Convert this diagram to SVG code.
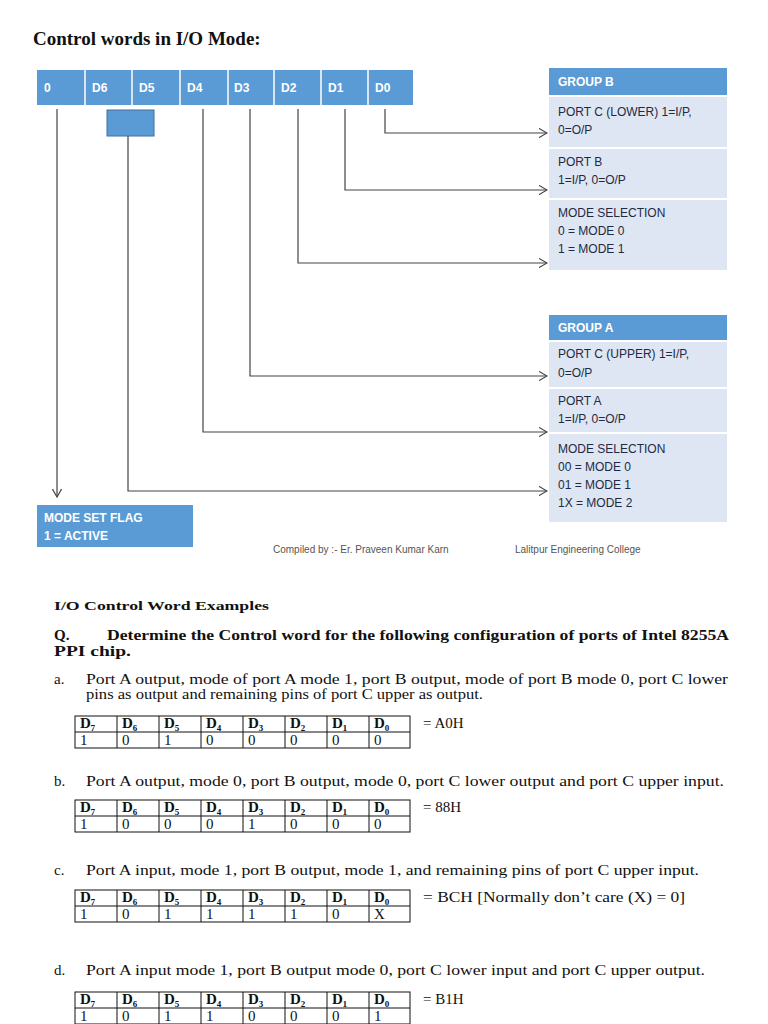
<svg xmlns="http://www.w3.org/2000/svg" width="768" height="1024" viewBox="0 0 768 1024">
<style>
.h{fill:#5b9bd5}.l{fill:#dde6f2}.wt{font-family:"Liberation Sans",Arial,sans-serif;font-size:12px;fill:#fff;font-weight:bold}
.bt{font-family:"Liberation Sans",Arial,sans-serif;font-size:12px;fill:#1f2a44}
.c{fill:none;stroke:#444;stroke-width:1.2}
.s{font-family:"Liberation Serif","Times New Roman",serif;font-size:15px;fill:#111}
.sb{font-family:"Liberation Serif","Times New Roman",serif;font-size:15px;font-weight:bold;fill:#111}
.tb{fill:#fff;stroke:#111;stroke-width:1}
</style>
<defs><marker id="a" markerWidth="8" markerHeight="8" refX="7" refY="4" orient="auto"><path d="M0,0 L7,4 L0,8" fill="none" stroke="#444"/></marker></defs>
<rect width="768" height="1024" fill="#fff"/>
<text x="33" y="45" style="font-family:'Liberation Serif',serif;font-size:19px;font-weight:bold;fill:#111">Control words in I/O Mode:</text>
<g id="bits">
<rect x="37" y="70" width="376" height="35" class="h"/>
<g stroke="#fff" stroke-width="1.5"><line x1="85" y1="70" x2="85" y2="105"/><line x1="132" y1="70" x2="132" y2="105"/><line x1="180" y1="70" x2="180" y2="105"/><line x1="228" y1="70" x2="228" y2="105"/><line x1="274" y1="70" x2="274" y2="105"/><line x1="321" y1="70" x2="321" y2="105"/><line x1="368" y1="70" x2="368" y2="105"/></g>
<text class="wt" x="44" y="92">0</text><text class="wt" x="92" y="92">D6</text><text class="wt" x="139" y="92">D5</text><text class="wt" x="187" y="92">D4</text><text class="wt" x="234" y="92">D3</text><text class="wt" x="281" y="92">D2</text><text class="wt" x="328" y="92">D1</text><text class="wt" x="375" y="92">D0</text>
</g>
<g id="d65"><rect x="107" y="110" width="47" height="26" class="h" stroke="#41719c"/></g>
<g id="groupB">
<rect x="549" y="68" width="178" height="27" class="h"/><text class="wt" x="558" y="86">GROUP B</text>
<rect x="549" y="97" width="178" height="50" class="l"/><text class="bt" x="558" y="116">PORT C (LOWER) 1=I/P,</text><text class="bt" x="558" y="134">0=O/P</text>
<rect x="549" y="149" width="178" height="49" class="l"/><text class="bt" x="558" y="166">PORT B</text><text class="bt" x="558" y="184">1=I/P, 0=O/P</text>
<rect x="549" y="200" width="178" height="70" class="l"/><text class="bt" x="558" y="217">MODE SELECTION</text><text class="bt" x="558" y="235">0 = MODE 0</text><text class="bt" x="558" y="253">1 = MODE 1</text>
</g>
<g id="groupA">
<rect x="549" y="315" width="178" height="25" class="h"/><text class="wt" x="558" y="332">GROUP A</text>
<rect x="549" y="342" width="178" height="45" class="l"/><text class="bt" x="558" y="358">PORT C (UPPER) 1=I/P,</text><text class="bt" x="558" y="377">0=O/P</text>
<rect x="549" y="389" width="178" height="43" class="l"/><text class="bt" x="558" y="405">PORT A</text><text class="bt" x="558" y="423">1=I/P, 0=O/P</text>
<rect x="549" y="434" width="178" height="88" class="l"/><text class="bt" x="558" y="453">MODE SELECTION</text><text class="bt" x="558" y="471">00 = MODE 0</text><text class="bt" x="558" y="489">01 = MODE 1</text><text class="bt" x="558" y="507">1X = MODE 2</text>
</g>
<g id="flag"><rect x="37" y="505" width="156" height="42" class="h"/><text class="wt" x="44" y="522">MODE SET FLAG</text><text class="wt" x="44" y="540">1 = ACTIVE</text></g>
<g id="connectors" class="c">
<path class="c" d="M385,109 V133 H547" marker-end="url(#a)"/>
<path class="c" d="M345,109 V190 H547" marker-end="url(#a)"/>
<path class="c" d="M298,109 V263 H547" marker-end="url(#a)"/>
<path class="c" d="M250,109 V376 H547" marker-end="url(#a)"/>
<path class="c" d="M203,109 V432 H547" marker-end="url(#a)"/>
<path class="c" d="M128,136 V491 H547" marker-end="url(#a)"/>
<path class="c" d="M57,109 V497" marker-end="url(#a)"/>
</g>
<text x="273" y="553" style="font-family:'Liberation Sans',sans-serif;font-size:10px;fill:#555">Compiled by :- Er. Praveen Kumar Karn</text>
<text x="515" y="553" style="font-family:'Liberation Sans',sans-serif;font-size:10px;fill:#555">Lalitpur Engineering College</text>
<text class="sb" x="54" y="610" style="font-size:13px" textLength="215" lengthAdjust="spacingAndGlyphs">I/O Control Word Examples</text>
<text class="sb" x="54" y="640">Q.</text><text class="sb" x="107" y="640" textLength="622" lengthAdjust="spacingAndGlyphs">Determine the Control word for the following configuration of ports of Intel 8255A</text>
<text class="sb" x="54" y="656" textLength="77" lengthAdjust="spacingAndGlyphs">PPI chip.</text>
<text class="s" x="54" y="684">a.</text><text class="s" x="86" y="684" textLength="642" lengthAdjust="spacingAndGlyphs">Port A output, mode of port A mode 1, port B output, mode of port B mode 0, port C lower</text>
<text class="s" x="86" y="699" textLength="397" lengthAdjust="spacingAndGlyphs">pins as output and remaining pins of port C upper as output.</text>
<text class="s" x="54" y="786">b.</text><text class="s" x="86" y="786" textLength="638" lengthAdjust="spacingAndGlyphs">Port A output, mode 0, port B output, mode 0, port C lower output and port C upper input.</text>
<text class="s" x="54" y="875">c.</text><text class="s" x="86" y="875" textLength="613" lengthAdjust="spacingAndGlyphs">Port A input, mode 1, port B output, mode 1, and remaining pins of port C upper input.</text>
<text class="s" x="54" y="975">d.</text><text class="s" x="86" y="975" textLength="619" lengthAdjust="spacingAndGlyphs">Port A input mode 1, port B output mode 0, port C lower input and port C upper output.</text>
<g id="tables" class="s">
<g id="ta" transform="translate(75,716)"><rect class="tb" width="335" height="32"/><line x1="0" y1="16" x2="335" y2="16" stroke="#111"/><g stroke="#111"><line x1="42" y1="0" x2="42" y2="32"/><line x1="84" y1="0" x2="84" y2="32"/><line x1="126" y1="0" x2="126" y2="32"/><line x1="168" y1="0" x2="168" y2="32"/><line x1="210" y1="0" x2="210" y2="32"/><line x1="252" y1="0" x2="252" y2="32"/><line x1="294" y1="0" x2="294" y2="32"/></g>
<text class="sb" x="5" y="12">D₇</text><text class="sb" x="47" y="12">D₆</text><text class="sb" x="89" y="12">D₅</text><text class="sb" x="131" y="12">D₄</text><text class="sb" x="173" y="12">D₃</text><text class="sb" x="215" y="12">D₂</text><text class="sb" x="257" y="12">D₁</text><text class="sb" x="299" y="12">D₀</text>
<text class="s" x="5" y="29">1</text><text class="s" x="47" y="29">0</text><text class="s" x="89" y="29">1</text><text class="s" x="131" y="29">0</text><text class="s" x="173" y="29">0</text><text class="s" x="215" y="29">0</text><text class="s" x="257" y="29">0</text><text class="s" x="299" y="29">0</text>
<text class="s" x="348" y="12">= A0H</text></g>
<g id="tb2" transform="translate(75,800)"><rect class="tb" width="335" height="32"/><line x1="0" y1="16" x2="335" y2="16" stroke="#111"/><g stroke="#111"><line x1="42" y1="0" x2="42" y2="32"/><line x1="84" y1="0" x2="84" y2="32"/><line x1="126" y1="0" x2="126" y2="32"/><line x1="168" y1="0" x2="168" y2="32"/><line x1="210" y1="0" x2="210" y2="32"/><line x1="252" y1="0" x2="252" y2="32"/><line x1="294" y1="0" x2="294" y2="32"/></g>
<text class="sb" x="5" y="12">D₇</text><text class="sb" x="47" y="12">D₆</text><text class="sb" x="89" y="12">D₅</text><text class="sb" x="131" y="12">D₄</text><text class="sb" x="173" y="12">D₃</text><text class="sb" x="215" y="12">D₂</text><text class="sb" x="257" y="12">D₁</text><text class="sb" x="299" y="12">D₀</text>
<text class="s" x="5" y="29">1</text><text class="s" x="47" y="29">0</text><text class="s" x="89" y="29">0</text><text class="s" x="131" y="29">0</text><text class="s" x="173" y="29">1</text><text class="s" x="215" y="29">0</text><text class="s" x="257" y="29">0</text><text class="s" x="299" y="29">0</text>
<text class="s" x="348" y="12">= 88H</text></g>
<g id="tc" transform="translate(75,890)"><rect class="tb" width="335" height="32"/><line x1="0" y1="16" x2="335" y2="16" stroke="#111"/><g stroke="#111"><line x1="42" y1="0" x2="42" y2="32"/><line x1="84" y1="0" x2="84" y2="32"/><line x1="126" y1="0" x2="126" y2="32"/><line x1="168" y1="0" x2="168" y2="32"/><line x1="210" y1="0" x2="210" y2="32"/><line x1="252" y1="0" x2="252" y2="32"/><line x1="294" y1="0" x2="294" y2="32"/></g>
<text class="sb" x="5" y="12">D₇</text><text class="sb" x="47" y="12">D₆</text><text class="sb" x="89" y="12">D₅</text><text class="sb" x="131" y="12">D₄</text><text class="sb" x="173" y="12">D₃</text><text class="sb" x="215" y="12">D₂</text><text class="sb" x="257" y="12">D₁</text><text class="sb" x="299" y="12">D₀</text>
<text class="s" x="5" y="29">1</text><text class="s" x="47" y="29">0</text><text class="s" x="89" y="29">1</text><text class="s" x="131" y="29">1</text><text class="s" x="173" y="29">1</text><text class="s" x="215" y="29">1</text><text class="s" x="257" y="29">0</text><text class="s" x="299" y="29">X</text>
<text class="s" x="348" y="12" textLength="262" lengthAdjust="spacingAndGlyphs">= BCH [Normally don’t care (X) = 0]</text></g>
<g id="td" transform="translate(75,992)"><rect class="tb" width="335" height="32"/><line x1="0" y1="16" x2="335" y2="16" stroke="#111"/><g stroke="#111"><line x1="42" y1="0" x2="42" y2="32"/><line x1="84" y1="0" x2="84" y2="32"/><line x1="126" y1="0" x2="126" y2="32"/><line x1="168" y1="0" x2="168" y2="32"/><line x1="210" y1="0" x2="210" y2="32"/><line x1="252" y1="0" x2="252" y2="32"/><line x1="294" y1="0" x2="294" y2="32"/></g>
<text class="sb" x="5" y="12">D₇</text><text class="sb" x="47" y="12">D₆</text><text class="sb" x="89" y="12">D₅</text><text class="sb" x="131" y="12">D₄</text><text class="sb" x="173" y="12">D₃</text><text class="sb" x="215" y="12">D₂</text><text class="sb" x="257" y="12">D₁</text><text class="sb" x="299" y="12">D₀</text>
<text class="s" x="5" y="29">1</text><text class="s" x="47" y="29">0</text><text class="s" x="89" y="29">1</text><text class="s" x="131" y="29">1</text><text class="s" x="173" y="29">0</text><text class="s" x="215" y="29">0</text><text class="s" x="257" y="29">0</text><text class="s" x="299" y="29">1</text>
<text class="s" x="348" y="12">= B1H</text></g>
</g>
</svg>
